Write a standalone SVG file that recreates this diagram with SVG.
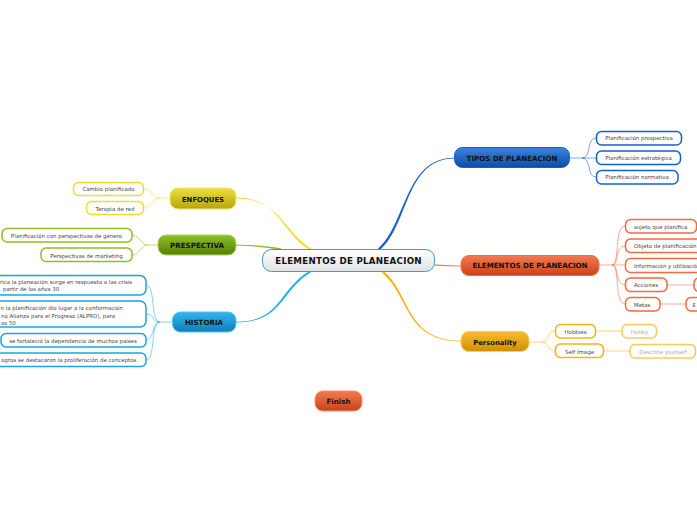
<svg xmlns="http://www.w3.org/2000/svg" width="697" height="520" viewBox="0 0 697 520">
<style>
text{font-family:"DejaVu Sans",Verdana,sans-serif;text-anchor:middle}
.m{font-size:7.1px;font-weight:bold;fill:#111}
.s{font-size:5.45px;fill:#444}
.l{font-size:5.45px;fill:#444;text-anchor:start}
.f{font-size:5.45px;fill:#aaa}
.c{fill:#fff;stroke-width:1.5}
.thin path{fill:none;stroke-width:1;stroke-opacity:.55}
</style>
<defs>
<linearGradient id="gc" x1="0" y1="0" x2="0" y2="1"><stop offset="0" stop-color="#fff"/><stop offset="1" stop-color="#dfe1e1"/></linearGradient>
<linearGradient id="gy" x1="0" y1="0" x2="0" y2="1"><stop offset="0" stop-color="#efdf3a"/><stop offset="1" stop-color="#b8a40a"/></linearGradient>
<linearGradient id="gg" x1="0" y1="0" x2="0" y2="1"><stop offset="0" stop-color="#8fc02a"/><stop offset="1" stop-color="#547f05"/></linearGradient>
<linearGradient id="gb" x1="0" y1="0" x2="0" y2="1"><stop offset="0" stop-color="#35b5ee"/><stop offset="1" stop-color="#0b7fbd"/></linearGradient>
<linearGradient id="gd" x1="0" y1="0" x2="0" y2="1"><stop offset="0" stop-color="#3a84e0"/><stop offset="1" stop-color="#0c4da6"/></linearGradient>
<linearGradient id="gr" x1="0" y1="0" x2="0" y2="1"><stop offset="0" stop-color="#f47a50"/><stop offset="1" stop-color="#c9431a"/></linearGradient>
<linearGradient id="go" x1="0" y1="0" x2="0" y2="1"><stop offset="0" stop-color="#f8bc2c"/><stop offset="1" stop-color="#d08f05"/></linearGradient>
</defs>
<g id="connectors">
<g id="main-links">
<path d="M236 197.400C280 197.400 282 235 311 250.500L313 249.500C284 234 281 198.400 236 198.400Z" fill="#f0dc28"/>
<path d="M236 244.800C255 244.800 268 246 281 248.300L281 250C268 247.800 255 245.700 236 245.700Z" fill="#8fc01e"/>
<path d="M236 321.800C281 321.800 278 290 309 271.200L311 272.300C280 291 283 322.500 236 322.500Z" fill="#25aee8"/>
<path d="M378 248.500C406.500 224.500 404.500 157.700 454 157.700L454 158.400C405.500 158.400 408.500 225.500 380 249.800Z" fill="#1560d0"/>
<path d="M435 264.600L461 265.800V266.600L435 265.800Z" fill="#f26a40"/>
<path d="M382 272.800C409.500 295.500 404.500 341.400 461 341.400L461 340.700C405.500 340.700 411 294.500 384 271.500Z" fill="#fbb117"/>
</g>
<g class="thin">
<path d="M144 189C152 189 152 198 160 198" stroke="#f0dc28"/>
<path d="M144 208C152 208 152 198 160 198" stroke="#f0dc28"/>
<path d="M170 198H160" stroke="#f0dc28"/>
<path d="M132 235C140 235 140 245 148 245" stroke="#8fc01e"/>
<path d="M132 255C140 255 140 245 148 245" stroke="#8fc01e"/>
<path d="M158 245H148" stroke="#8fc01e"/>
<path d="M146 285C156 285 150 322 160 322" stroke="#25aee8"/>
<path d="M146 314C156 314 150 322 160 322" stroke="#25aee8"/>
<path d="M146 340C154 340 152 322 160 322" stroke="#25aee8"/>
<path d="M146 360C156 360 150 322 160 322" stroke="#25aee8"/>
<path d="M172 322H160" stroke="#25aee8"/>
<path d="M596 138C586 138 592 158 582 158" stroke="#1560d0"/>
<path d="M596 158H582" stroke="#1560d0"/>
<path d="M596 177C586 177 592 158 582 158" stroke="#1560d0"/>
<path d="M570 158H582" stroke="#1560d0"/>
<path d="M625 226C614 226 620 265 612 265" stroke="#f26a40"/>
<path d="M625 246C614 246 620 265 612 265" stroke="#f26a40"/>
<path d="M625 265H612" stroke="#f26a40"/>
<path d="M625 285C614 285 620 265 612 265" stroke="#f26a40"/>
<path d="M625 304C614 304 620 265 612 265" stroke="#f26a40"/>
<path d="M599 265H612" stroke="#f26a40"/>
<path d="M667 285H694" stroke="#f26a40"/>
<path d="M660 304H686" stroke="#f26a40"/>
<path d="M555 331C546 331 550 342 542 342" stroke="#fbb117"/>
<path d="M555 351C546 351 550 342 542 342" stroke="#fbb117"/>
<path d="M529 342H542" stroke="#fbb117"/>
<path d="M596 331H622" stroke="#fbb117"/>
<path d="M603 351H630" stroke="#fbb117"/>
</g>
</g>
<g id="center"><rect x="262.500" y="249.500" width="172" height="22" rx="9" fill="url(#gc)" stroke="#4a94cc"/><text x="348.500" y="264" style="font-size:8.700px;font-weight:bold;letter-spacing:.25px" fill="#111">ELEMENTOS DE PLANEACION</text></g>
<g id="enfoques"><rect x="170" y="188" width="66" height="21" rx="8" fill="url(#gy)" stroke="#f3e66a"/><text class="m" x="203" y="201.500" style="font-size:6.900px">ENFOQUES</text></g>
<g id="cambio"><rect class="c" x="73.500" y="182.500" width="70" height="13" rx="5" stroke="#f0dc28"/><text class="s" x="108.500" y="191">Cambio planificado</text></g>
<g id="terapia"><rect class="c" x="86.500" y="201.500" width="57" height="13" rx="5" stroke="#f0dc28"/><text class="s" x="115" y="211">Terapia de red</text></g>
<g id="prespectiva"><rect x="158" y="235" width="78" height="20" rx="8" fill="url(#gg)" stroke="#b0d460"/><text class="m" x="197" y="248">PRESPECTIVA</text></g>
<g id="genero"><rect class="c" x="2" y="228.500" width="130" height="13.500" rx="5" stroke="#8fc01e"/><text class="s" x="66.500" y="238">Planificación con perspectivas de género</text></g>
<g id="marketing"><rect class="c" x="41" y="248" width="91" height="13.500" rx="5" stroke="#8fc01e"/><text class="s" x="86.500" y="257.500">Perspectivas de marketing</text></g>
<g id="historia"><rect x="172.500" y="312" width="63.500" height="20" rx="8" fill="url(#gb)" stroke="#53c2f0"/><text class="m" x="204" y="325">HISTORIA</text></g>
<g id="h1"><rect class="c" x="-60" y="275.500" width="206" height="19.500" rx="6" stroke="#18a5e5"/><text class="l" x="0" y="284">rica la planeación surge en respuesta a las crisis</text><text class="l" x="3" y="291">partir de los años 30</text></g>
<g id="h2"><rect class="c" x="-60" y="301" width="206" height="26" rx="6" stroke="#18a5e5"/><text class="l" x="0.500" y="310">n la planificación dio lugar a la conformación</text><text class="l" x="1" y="317.500">nó Alianza para el Progreso (ALPRO), para</text><text class="l" x="1" y="325">os 50</text></g>
<g id="h3"><rect class="c" x="1" y="333.500" width="145" height="13.500" rx="5" stroke="#18a5e5"/><text class="s" x="73" y="343">se fortaleció la dependencia de muchos países</text></g>
<g id="h4"><rect class="c" x="-12" y="353" width="158" height="13.500" rx="5" stroke="#18a5e5"/><text class="l" x="1" y="362">ogros se destacaron la proliferación de conceptos</text></g>
<g id="tipos"><rect x="454.500" y="147.500" width="115" height="20" rx="8" fill="url(#gd)" stroke="#1560d0"/><text class="m" x="512" y="160.500">TIPOS DE PLANEACIÓN</text></g>
<g id="t1"><rect class="c" x="596.500" y="131.500" width="85" height="13.500" rx="5" stroke="#1560d0"/><text class="s" x="639" y="140">Planificación prospectiva</text></g>
<g id="t2"><rect class="c" x="596.500" y="151" width="84" height="13.500" rx="5" stroke="#1560d0"/><text class="s" x="638.500" y="160">Planificación estratégica</text></g>
<g id="t3"><rect class="c" x="596.500" y="170.500" width="81.500" height="13.500" rx="5" stroke="#1560d0"/><text class="s" x="637" y="179">Planificación normativa</text></g>
<g id="elementos"><rect x="461" y="255.500" width="138" height="20" rx="8" fill="url(#gr)" stroke="#f26a40"/><text class="m" x="530" y="268">ELEMENTOS DE PLANEACION</text></g>
<g id="e1"><rect class="c" x="625.500" y="219.500" width="71" height="13.500" rx="5" stroke="#f26a40"/><text class="l" x="634" y="229">sujeto que planifica</text></g>
<g id="e2"><rect class="c" x="625.500" y="239" width="90" height="13.500" rx="5" stroke="#f26a40"/><text class="l" x="634" y="248">Objeto de planificación</text></g>
<g id="e3"><rect class="c" x="625.500" y="258.500" width="120" height="14" rx="5" stroke="#f26a40"/><text class="l" x="634" y="268">Información y utilizació</text></g>
<g id="e4"><rect class="c" x="625.500" y="278" width="41.500" height="13.500" rx="5" stroke="#f26a40"/><text class="l" x="634" y="287">Acciones</text></g>
<g id="e4a"><rect class="c" x="694" y="278" width="40" height="13.500" rx="5" stroke="#f26a40"/></g>
<g id="e5"><rect class="c" x="625.500" y="297.500" width="34.500" height="13.500" rx="5" stroke="#f26a40"/><text class="l" x="634" y="307">Metas</text></g>
<g id="e5a"><rect class="c" x="686" y="297.500" width="40" height="13.500" rx="5" stroke="#f26a40"/><text class="l" x="692.500" y="307" style="font-size:5px">E</text></g>
<g id="personality"><rect x="461" y="331.500" width="68" height="20" rx="8" fill="url(#go)" stroke="#f9cd60"/><text class="m" x="495" y="344.500" style="font-size:6.800px">Personality</text></g>
<g id="hobbies"><rect class="c" x="555.500" y="324.500" width="40" height="13.500" rx="5" stroke="#fbb117"/><text class="s" x="575.500" y="334">Hobbies</text></g>
<g id="self"><rect class="c" x="555.500" y="344" width="48" height="13.500" rx="5" stroke="#fbb117"/><text class="s" x="579.500" y="353.500">Self Image</text></g>
<g id="hobby"><rect class="c" x="622" y="324.500" width="34.500" height="13.500" rx="5" stroke="#fcc95a"/><text class="f" x="639.500" y="334">Hobby</text></g>
<g id="describe"><rect class="c" x="630" y="344.500" width="65.500" height="13.500" rx="5" stroke="#fcc95a"/><text class="f" x="663" y="353.500">Describe yourself</text></g>
<g id="finish"><rect x="315" y="391" width="47" height="20" rx="8" fill="url(#gr)" stroke="#f88c66"/><text class="m" x="338.500" y="404">Finish</text></g>
</svg>
